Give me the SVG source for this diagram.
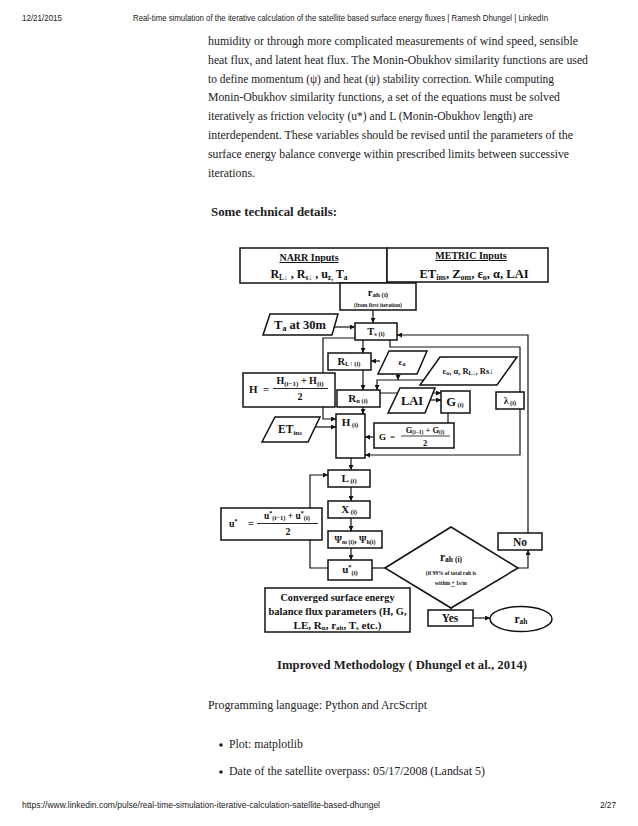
<svg xmlns="http://www.w3.org/2000/svg" width="638" height="826" viewBox="0 0 638 826">
<style>
.hd{font-family:"Liberation Sans",Arial,sans-serif;font-size:9px;fill:#222}
.bt{font-family:"Liberation Serif","DejaVu Serif",serif;font-size:12.5px;fill:#222}
.bb{font-family:"Liberation Serif","DejaVu Serif",serif;font-size:13px;font-weight:bold;fill:#222}
.box{fill:#fff;stroke:#111;stroke-width:1.5}
.ln{fill:none;stroke:#111;stroke-width:1.2}
.ar{fill:none;stroke:#111;stroke-width:1.2;marker-end:url(#ah)}
.t{font-family:"Liberation Serif","Times New Roman",serif;font-weight:bold;fill:#111;text-anchor:middle}
.tl{font-family:"Liberation Serif","Times New Roman",serif;font-weight:bold;fill:#111}
</style>
<defs>
<marker id="ah" viewBox="0 0 8 8" refX="8" refY="4" markerWidth="5" markerHeight="5" orient="auto" markerUnits="userSpaceOnUse">
<path d="M0,0 L8,4 L0,8 z" fill="#111"/>
</marker>
</defs>
<rect width="638" height="826" fill="#fff"/>

<!-- page header -->
<text class="hd" x="22" y="21" textLength="40" lengthAdjust="spacingAndGlyphs">12/21/2015</text>
<text class="hd" x="133" y="21" textLength="415" lengthAdjust="spacingAndGlyphs">Real-time simulation of the iterative calculation of the satellite based surface energy fluxes | Ramesh Dhungel | LinkedIn</text>

<!-- body text -->
<text class="bt" x="208" y="45" textLength="370" lengthAdjust="spacingAndGlyphs">humidity or through more complicated measurements of wind speed, sensible</text>
<text class="bt" x="208" y="64" textLength="380" lengthAdjust="spacingAndGlyphs">heat flux, and latent heat flux. The Monin-Obukhov similarity functions are used</text>
<text class="bt" x="208" y="83" textLength="346" lengthAdjust="spacingAndGlyphs">to define momentum (ψ) and heat (ψ) stability correction. While computing</text>
<text class="bt" x="208" y="101" textLength="352" lengthAdjust="spacingAndGlyphs">Monin-Obukhov similarity functions, a set of the equations must be solved</text>
<text class="bt" x="208" y="120" textLength="325" lengthAdjust="spacingAndGlyphs">iteratively as friction velocity (u*) and L (Monin-Obukhov length) are</text>
<text class="bt" x="208" y="139" textLength="365" lengthAdjust="spacingAndGlyphs">interdependent. These variables should be revised until the parameters of the</text>
<text class="bt" x="208" y="158" textLength="361" lengthAdjust="spacingAndGlyphs">surface energy balance converge within prescribed limits between successive</text>
<text class="bt" x="208" y="177" textLength="47" lengthAdjust="spacingAndGlyphs">iterations.</text>
<text class="bb" x="211" y="216" textLength="126" lengthAdjust="spacingAndGlyphs">Some technical details:</text>

<!-- connectors -->
<g id="connectors">
<line class="ar" x1="373" y1="310" x2="373" y2="323"/>
<line class="ar" x1="334" y1="327" x2="355" y2="327"/>
<polyline class="ar" points="518,568 528,568 528,550"/>
<polyline class="ar" points="528,533 528,335 397,335"/>
<polyline class="ar" points="355,338 323,338 323,419 336,419"/>
<polyline class="ar" points="390,340 390,347 520,347 520,455 365,455"/>
<line class="ar" x1="363" y1="340" x2="363" y2="353"/>
<line class="ar" x1="380" y1="361" x2="371" y2="361"/>
<line class="ar" x1="363" y1="370" x2="363" y2="390"/>
<polyline class="ar" points="425,380 377,380 377,390"/>
<line class="ar" x1="398" y1="374" x2="398" y2="380"/>
<line class="ar" x1="380" y1="393" x2="441" y2="393"/>
<line class="ar" x1="431" y1="400" x2="441" y2="400"/>
<line class="ln" x1="448" y1="413" x2="448" y2="423"/>
<line class="ar" x1="374" y1="437" x2="365" y2="437"/>
<line class="ar" x1="316" y1="427" x2="336" y2="427"/>
<line class="ar" x1="363" y1="407" x2="363" y2="414"/>
<line class="ar" x1="351" y1="458" x2="351" y2="470"/>
<line class="ar" x1="351" y1="487" x2="351" y2="501"/>
<line class="ar" x1="351" y1="518" x2="351" y2="531"/>
<line class="ar" x1="351" y1="548" x2="351" y2="560"/>
<polyline class="ar" points="328,568 310,568 310,475 328,475"/>
<line class="ln" x1="372" y1="568" x2="385" y2="568"/>
<line class="ln" x1="451" y1="608" x2="451" y2="610"/>
<line class="ar" x1="473" y1="618" x2="490" y2="618"/>
</g>

<!-- nodes -->
<g id="narr">
<rect class="box" x="240" y="248" width="147" height="35"/>
<text class="t" x="309" y="261" font-size="10" text-decoration="underline">NARR Inputs</text>
<text class="t" x="309" y="278" font-size="12">R<tspan font-size="7.5" dy="2">L↓</tspan><tspan dy="-2"> , R</tspan><tspan font-size="7.5" dy="2">s↓</tspan><tspan dy="-2"> , u</tspan><tspan font-size="7.5" dy="2">z,</tspan><tspan dy="-2"> T</tspan><tspan font-size="7.5" dy="2">a</tspan></text>
</g>
<g id="metric">
<rect class="box" x="387" y="248" width="161" height="34"/>
<text class="t" x="471" y="259" font-size="10" text-decoration="underline">METRIC Inputs</text>
<text class="t" x="474" y="278" font-size="12.5">ET<tspan font-size="8" dy="2">ins</tspan><tspan dy="-2">, Z</tspan><tspan font-size="8" dy="2">om</tspan><tspan dy="-2">, ε</tspan><tspan font-size="8" dy="2">o</tspan><tspan dy="-2">, α,  LAI</tspan></text>
</g>
<g id="rah0">
<rect class="box" x="340" y="283" width="76" height="27"/>
<text class="t" x="378" y="296" font-size="10.5">r<tspan font-size="7" dy="1">ah (i)</tspan></text>
<text class="t" x="378" y="307" font-size="5.5">(from first iteration)</text>
</g>
<g id="ta">
<polygon class="box" points="270,314 338,314 332,335 263,335"/>
<text class="t" x="300" y="329" font-size="12.5">T<tspan font-size="8" dy="2">a</tspan><tspan dy="-2"> at 30m</tspan></text>
</g>
<g id="ts">
<rect class="box" x="355" y="323" width="42" height="17"/>
<text class="t" x="376" y="335" font-size="10.5">T<tspan font-size="6.5" dy="1">s (i)</tspan></text>
</g>
<g id="lambda">
<rect class="box" x="496" y="392" width="28" height="17"/>
<text class="t" x="510" y="404" font-size="9.5">λ<tspan font-size="6.5" dy="1"> (i)</tspan></text>
</g>
<g id="rlup">
<rect class="box" x="328" y="353" width="43" height="17"/>
<text class="t" x="349" y="365" font-size="10.5">R<tspan font-size="6.5" dy="1">L↑ (i)</tspan></text>
</g>
<g id="epsa">
<polygon class="box" points="389,351 427,351 417,374 378,374"/>
<text class="t" x="402" y="365" font-size="9">ε<tspan font-size="6" dy="1">a</tspan></text>
</g>
<g id="params">
<polygon class="box" points="440,357 517,357 497,385 420,385"/>
<text class="t" x="468" y="374" font-size="8.5">ε<tspan font-size="6" dy="1">o</tspan><tspan dy="-1">, α, R</tspan><tspan font-size="6" dy="1">L↓</tspan><tspan dy="-1">, Rs↓</tspan></text>
</g>
<g id="rn">
<rect class="box" x="337" y="390" width="43" height="17"/>
<text class="t" x="358" y="402" font-size="11">R<tspan font-size="6.5" dy="1">n (i)</tspan></text>
</g>
<g id="lai">
<polygon class="box" points="400,388 435,388 425,413 388,413"/>
<text class="t" x="412" y="405" font-size="12.5">LAI</text>
</g>
<g id="g">
<rect class="box" x="441" y="391" width="29" height="22"/>
<text class="t" x="455" y="406" font-size="12.5">G<tspan font-size="6.5" dy="1"> (i)</tspan></text>
</g>
<g id="gavg">
<rect class="box" x="374" y="423" width="80" height="25"/>
<text class="tl" x="379" y="440" font-size="9">G</text>
<text class="tl" x="390" y="440" font-size="9">=</text>
<text class="t" x="425" y="433" font-size="8.5">G<tspan font-size="5.5" dy="1">(i−1)</tspan><tspan dy="-1"> + G</tspan><tspan font-size="5.5" dy="1">(i)</tspan></text>
<line x1="401" y1="436" x2="450" y2="436" stroke="#111" stroke-width="0.8"/>
<text class="t" x="425" y="446" font-size="8.5">2</text>
</g>
<g id="etins">
<polygon class="box" points="275,417 320,417 308,442 262,442"/>
<text class="t" x="290" y="433" font-size="11.5">ET<tspan font-size="7" dy="2">ins</tspan></text>
</g>
<g id="havg">
<rect class="box" x="243" y="373" width="92" height="34"/>
<text class="tl" x="249" y="393" font-size="11">H</text>
<text class="tl" x="263" y="393" font-size="11">=</text>
<text class="t" x="300" y="384" font-size="10">H<tspan font-size="7" dy="2">(i−1)</tspan><tspan dy="-2"> + H</tspan><tspan font-size="7" dy="2">(i)</tspan></text>
<line x1="273" y1="388.5" x2="328" y2="388.5" stroke="#111" stroke-width="0.9"/>
<text class="t" x="300" y="400" font-size="10">2</text>
</g>
<g id="h">
<rect class="box" x="336" y="414" width="29" height="44"/>
<text class="t" x="350" y="426" font-size="11">H<tspan font-size="6.5" dy="1"> (i)</tspan></text>
</g>
<g id="l">
<rect class="box" x="328" y="470" width="42" height="17"/>
<text class="t" x="349" y="482" font-size="11">L<tspan font-size="6.5" dy="1"> (i)</tspan></text>
</g>
<g id="x">
<rect class="box" x="328" y="501" width="42" height="17"/>
<text class="t" x="349" y="513" font-size="11">X<tspan font-size="6.5" dy="1"> (i)</tspan></text>
</g>
<g id="psi">
<rect class="box" x="328" y="531" width="54" height="17"/>
<text class="t" x="355" y="543" font-size="9.5">Ψ<tspan font-size="6" dy="1">m (i)</tspan><tspan dy="-1">, Ψ</tspan><tspan font-size="6" dy="1">h(i)</tspan></text>
</g>
<g id="ustar">
<rect class="box" x="328" y="560" width="44" height="20"/>
<text class="t" x="350" y="573" font-size="11">u<tspan font-size="6.5" dy="-4">*</tspan><tspan font-size="6.5" dy="6">(i)</tspan></text>
</g>
<g id="uavg">
<rect class="box" x="221" y="508" width="101" height="32"/>
<text class="tl" x="229" y="527" font-size="10">u<tspan font-size="6" dy="-4">*</tspan></text>
<text class="tl" x="248" y="527" font-size="10">=</text>
<text class="t" x="287" y="519" font-size="9.5">u<tspan font-size="6" dy="-4">*</tspan><tspan font-size="6.5" dy="5">(i−1)</tspan><tspan dy="-1"> + u</tspan><tspan font-size="6" dy="-4">*</tspan><tspan font-size="6.5" dy="5">(i)</tspan></text>
<line x1="257" y1="523.5" x2="318" y2="523.5" stroke="#111" stroke-width="0.9"/>
<text class="t" x="288" y="535" font-size="10">2</text>
</g>
<g id="diamond">
<polygon class="box" points="385,568 451,527 518,568 451,608"/>
<text class="t" x="451" y="561" font-size="11.5">r<tspan font-size="7.5" dy="1">ah (i)</tspan></text>
<text class="t" x="451" y="575" font-size="5.5">(if 99% of total rah is</text>
<text class="t" x="451" y="585" font-size="5.5">within <tspan text-decoration="underline">+</tspan> 1s/m</text>
</g>
<g id="no">
<rect class="box" x="498" y="533" width="44" height="17"/>
<text class="t" x="520" y="546" font-size="11.5">No</text>
</g>
<g id="yes">
<rect class="box" x="428" y="610" width="45" height="16"/>
<text class="t" x="450" y="622" font-size="11.5">Yes</text>
</g>
<g id="rah">
<ellipse class="box" cx="521" cy="619" rx="31" ry="12.5"/>
<text class="t" x="521" y="623" font-size="11.5">r<tspan font-size="7.5" dy="1">ah</tspan></text>
</g>
<g id="converged">
<rect class="box" x="265" y="588" width="145" height="44"/>
<text class="t" x="337.5" y="601" font-size="11" textLength="114" lengthAdjust="spacingAndGlyphs">Converged surface energy</text>
<text class="t" x="337.5" y="615" font-size="11" textLength="138" lengthAdjust="spacingAndGlyphs">balance flux parameters (H, G,</text>
<text class="t" x="337.5" y="629" font-size="11">LE, R<tspan font-size="7" dy="1">n</tspan><tspan dy="-1">, r</tspan><tspan font-size="7" dy="1">ah</tspan><tspan dy="-1">, T</tspan><tspan font-size="7" dy="1">s</tspan><tspan dy="-1"> etc.)</tspan></text>
</g>

<!-- caption and bottom text -->
<text class="bb" x="277" y="669" textLength="250" lengthAdjust="spacingAndGlyphs">Improved Methodology ( Dhungel et al., 2014)</text>
<text class="bt" x="208" y="709" textLength="219" lengthAdjust="spacingAndGlyphs">Programming language: Python and ArcScript</text>
<circle cx="221" cy="745" r="1.8" fill="#222"/>
<text class="bt" x="229" y="748" textLength="74" lengthAdjust="spacingAndGlyphs">Plot: matplotlib</text>
<circle cx="221" cy="772" r="1.8" fill="#222"/>
<text class="bt" x="229" y="775" textLength="256" lengthAdjust="spacingAndGlyphs">Date of the satellite overpass: 05/17/2008 (Landsat 5)</text>

<!-- footer -->
<text class="hd" x="22" y="808" textLength="358" lengthAdjust="spacingAndGlyphs">https://www.linkedin.com/pulse/real-time-simulation-iterative-calculation-satellite-based-dhungel</text>
<text class="hd" x="600" y="808" textLength="16" lengthAdjust="spacingAndGlyphs">2/27</text>
</svg>
